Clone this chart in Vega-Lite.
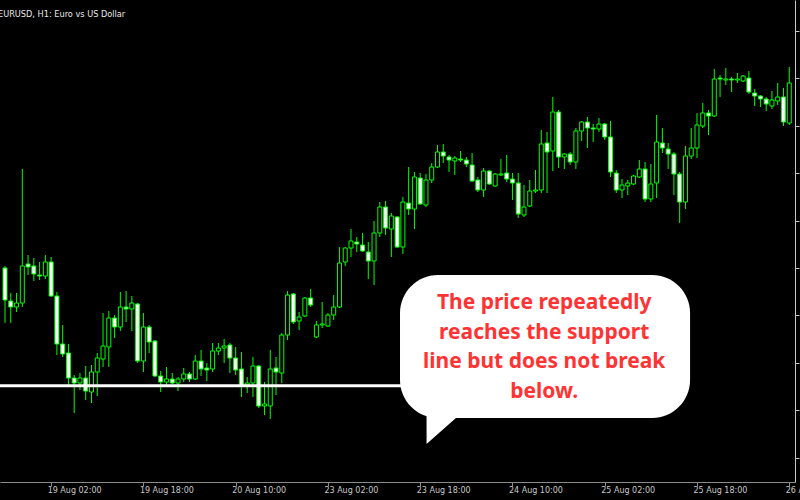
{
"$schema":"https://vega.github.io/schema/vega-lite/v6.json",
"width":795,"height":482,
"autosize":{"type":"none"},
"padding":{"left":0,"top":0,"right":5,"bottom":18},
"background":"#000000",
"config":{"view":{"stroke":null}},
"title":{"text":"EURUSD, H1:  Euro vs US Dollar","anchor":"start","orient":"top","frame":"group","offset":-19,"dx":-2,"color":"#e8e8e8","font":"DejaVu Sans","fontSize":8.2,"fontWeight":"normal"},
"datasets":{"candles":[
{"i":0,"o":1.17196,"h":1.17202,"l":1.17031,"c":1.17100},
{"i":1,"o":1.17097,"h":1.17121,"l":1.17031,"c":1.17079},
{"i":2,"o":1.17079,"h":1.17121,"l":1.17064,"c":1.17091},
{"i":3,"o":1.17091,"h":1.17493,"l":1.17079,"c":1.17202},
{"i":4,"o":1.17208,"h":1.17235,"l":1.17175,"c":1.17199},
{"i":5,"o":1.17202,"h":1.17226,"l":1.17157,"c":1.17178},
{"i":6,"o":1.17175,"h":1.17214,"l":1.17160,"c":1.17172},
{"i":7,"o":1.17172,"h":1.17235,"l":1.17163,"c":1.17214},
{"i":8,"o":1.17214,"h":1.17229,"l":1.17109,"c":1.17112},
{"i":9,"o":1.17112,"h":1.17124,"l":1.16935,"c":1.16968},
{"i":10,"o":1.16968,"h":1.17025,"l":1.16929,"c":1.16938},
{"i":11,"o":1.16941,"h":1.16968,"l":1.16845,"c":1.16866},
{"i":12,"o":1.16866,"h":1.16875,"l":1.16761,"c":1.16851},
{"i":13,"o":1.16851,"h":1.16881,"l":1.16830,"c":1.16866},
{"i":14,"o":1.16866,"h":1.16902,"l":1.16800,"c":1.16827},
{"i":15,"o":1.16824,"h":1.16905,"l":1.16791,"c":1.16884},
{"i":16,"o":1.16884,"h":1.16941,"l":1.16812,"c":1.16926},
{"i":17,"o":1.16923,"h":1.17061,"l":1.16899,"c":1.16962},
{"i":18,"o":1.16959,"h":1.17067,"l":1.16899,"c":1.17046},
{"i":19,"o":1.17046,"h":1.17055,"l":1.16986,"c":1.17019},
{"i":20,"o":1.17019,"h":1.17124,"l":1.17007,"c":1.17079},
{"i":21,"o":1.17079,"h":1.17127,"l":1.17034,"c":1.17073},
{"i":22,"o":1.17073,"h":1.17112,"l":1.17007,"c":1.17091},
{"i":23,"o":1.17088,"h":1.17091,"l":1.16911,"c":1.16917},
{"i":24,"o":1.16917,"h":1.17061,"l":1.16884,"c":1.17019},
{"i":25,"o":1.17019,"h":1.17025,"l":1.16941,"c":1.16974},
{"i":26,"o":1.16977,"h":1.16980,"l":1.16869,"c":1.16872},
{"i":27,"o":1.16872,"h":1.16887,"l":1.16824,"c":1.16854},
{"i":28,"o":1.16854,"h":1.16899,"l":1.16845,"c":1.16863},
{"i":29,"o":1.16863,"h":1.16881,"l":1.16848,"c":1.16851},
{"i":30,"o":1.16851,"h":1.16869,"l":1.16827,"c":1.16863},
{"i":31,"o":1.16863,"h":1.16896,"l":1.16854,"c":1.16878},
{"i":32,"o":1.16878,"h":1.16884,"l":1.16854,"c":1.16863},
{"i":33,"o":1.16863,"h":1.16935,"l":1.16860,"c":1.16917},
{"i":34,"o":1.16917,"h":1.16950,"l":1.16872,"c":1.16893},
{"i":35,"o":1.16896,"h":1.16911,"l":1.16857,"c":1.16890},
{"i":36,"o":1.16893,"h":1.16971,"l":1.16884,"c":1.16947},
{"i":37,"o":1.16947,"h":1.16971,"l":1.16935,"c":1.16956},
{"i":38,"o":1.16956,"h":1.16983,"l":1.16911,"c":1.16962},
{"i":39,"o":1.16965,"h":1.16971,"l":1.16881,"c":1.16926},
{"i":40,"o":1.16926,"h":1.16959,"l":1.16875,"c":1.16890},
{"i":41,"o":1.16893,"h":1.16944,"l":1.16809,"c":1.16842},
{"i":42,"o":1.16845,"h":1.16869,"l":1.16821,"c":1.16851},
{"i":43,"o":1.16851,"h":1.16929,"l":1.16809,"c":1.16902},
{"i":44,"o":1.16902,"h":1.16905,"l":1.16776,"c":1.16782},
{"i":45,"o":1.16782,"h":1.16854,"l":1.16755,"c":1.16788},
{"i":46,"o":1.16782,"h":1.16950,"l":1.16743,"c":1.16893},
{"i":47,"o":1.16896,"h":1.16929,"l":1.16815,"c":1.16884},
{"i":48,"o":1.16881,"h":1.17001,"l":1.16851,"c":1.16995},
{"i":49,"o":1.16995,"h":1.17127,"l":1.16980,"c":1.17115},
{"i":50,"o":1.17118,"h":1.17121,"l":1.17028,"c":1.17034},
{"i":51,"o":1.17037,"h":1.17064,"l":1.17010,"c":1.17049},
{"i":52,"o":1.17052,"h":1.17109,"l":1.17049,"c":1.17106},
{"i":53,"o":1.17106,"h":1.17133,"l":1.17079,"c":1.17085},
{"i":54,"o":1.16989,"h":1.17037,"l":1.16986,"c":1.17025},
{"i":55,"o":1.17025,"h":1.17094,"l":1.17016,"c":1.17028},
{"i":56,"o":1.17022,"h":1.17061,"l":1.17019,"c":1.17055},
{"i":57,"o":1.17055,"h":1.17115,"l":1.17040,"c":1.17079},
{"i":58,"o":1.17079,"h":1.17259,"l":1.17076,"c":1.17211},
{"i":59,"o":1.17214,"h":1.17259,"l":1.17202,"c":1.17256},
{"i":60,"o":1.17256,"h":1.17313,"l":1.17229,"c":1.17277},
{"i":61,"o":1.17274,"h":1.17289,"l":1.17244,"c":1.17268},
{"i":62,"o":1.17265,"h":1.17301,"l":1.17244,"c":1.17247},
{"i":63,"o":1.17244,"h":1.17274,"l":1.17163,"c":1.17217},
{"i":64,"o":1.17217,"h":1.17337,"l":1.17145,"c":1.17301},
{"i":65,"o":1.17301,"h":1.17394,"l":1.17289,"c":1.17379},
{"i":66,"o":1.17379,"h":1.17397,"l":1.17295,"c":1.17316},
{"i":67,"o":1.17313,"h":1.17361,"l":1.17229,"c":1.17352},
{"i":68,"o":1.17349,"h":1.17352,"l":1.17256,"c":1.17259},
{"i":69,"o":1.17259,"h":1.17409,"l":1.17238,"c":1.17394},
{"i":70,"o":1.17391,"h":1.17499,"l":1.17355,"c":1.17373},
{"i":71,"o":1.17373,"h":1.17484,"l":1.17313,"c":1.17469},
{"i":72,"o":1.17466,"h":1.17481,"l":1.17385,"c":1.17388},
{"i":73,"o":1.17385,"h":1.17478,"l":1.17379,"c":1.17460},
{"i":74,"o":1.17460,"h":1.17511,"l":1.17451,"c":1.17499},
{"i":75,"o":1.17499,"h":1.17565,"l":1.17496,"c":1.17544},
{"i":76,"o":1.17544,"h":1.17568,"l":1.17511,"c":1.17532},
{"i":77,"o":1.17529,"h":1.17535,"l":1.17484,"c":1.17520},
{"i":78,"o":1.17517,"h":1.17532,"l":1.17475,"c":1.17526},
{"i":79,"o":1.17523,"h":1.17547,"l":1.17514,"c":1.17520},
{"i":80,"o":1.17520,"h":1.17529,"l":1.17499,"c":1.17508},
{"i":81,"o":1.17505,"h":1.17541,"l":1.17454,"c":1.17457},
{"i":82,"o":1.17460,"h":1.17469,"l":1.17424,"c":1.17430},
{"i":83,"o":1.17430,"h":1.17496,"l":1.17409,"c":1.17487},
{"i":84,"o":1.17487,"h":1.17490,"l":1.17445,"c":1.17448},
{"i":85,"o":1.17442,"h":1.17481,"l":1.17439,"c":1.17478},
{"i":86,"o":1.17475,"h":1.17523,"l":1.17472,"c":1.17478},
{"i":87,"o":1.17481,"h":1.17535,"l":1.17454,"c":1.17463},
{"i":88,"o":1.17463,"h":1.17481,"l":1.17400,"c":1.17451},
{"i":89,"o":1.17451,"h":1.17481,"l":1.17346,"c":1.17358},
{"i":90,"o":1.17355,"h":1.17445,"l":1.17349,"c":1.17379},
{"i":91,"o":1.17382,"h":1.17460,"l":1.17379,"c":1.17427},
{"i":92,"o":1.17427,"h":1.17490,"l":1.17421,"c":1.17430},
{"i":93,"o":1.17430,"h":1.17610,"l":1.17421,"c":1.17568},
{"i":94,"o":1.17571,"h":1.17604,"l":1.17421,"c":1.17544},
{"i":95,"o":1.17547,"h":1.17709,"l":1.17487,"c":1.17664},
{"i":96,"o":1.17664,"h":1.17670,"l":1.17496,"c":1.17529},
{"i":97,"o":1.17529,"h":1.17541,"l":1.17493,"c":1.17538},
{"i":98,"o":1.17538,"h":1.17544,"l":1.17505,"c":1.17514},
{"i":99,"o":1.17514,"h":1.17616,"l":1.17493,"c":1.17607},
{"i":100,"o":1.17607,"h":1.17637,"l":1.17577,"c":1.17634},
{"i":101,"o":1.17634,"h":1.17649,"l":1.17556,"c":1.17616},
{"i":102,"o":1.17616,"h":1.17628,"l":1.17574,"c":1.17613},
{"i":103,"o":1.17613,"h":1.17646,"l":1.17604,"c":1.17628},
{"i":104,"o":1.17628,"h":1.17631,"l":1.17580,"c":1.17589},
{"i":105,"o":1.17589,"h":1.17637,"l":1.17469,"c":1.17484},
{"i":106,"o":1.17481,"h":1.17490,"l":1.17421,"c":1.17430},
{"i":107,"o":1.17430,"h":1.17463,"l":1.17406,"c":1.17445},
{"i":108,"o":1.17442,"h":1.17460,"l":1.17415,"c":1.17451},
{"i":109,"o":1.17448,"h":1.17475,"l":1.17445,"c":1.17472},
{"i":110,"o":1.17469,"h":1.17520,"l":1.17466,"c":1.17493},
{"i":111,"o":1.17493,"h":1.17514,"l":1.17394,"c":1.17403},
{"i":112,"o":1.17403,"h":1.17508,"l":1.17394,"c":1.17448},
{"i":113,"o":1.17451,"h":1.17655,"l":1.17406,"c":1.17574},
{"i":114,"o":1.17571,"h":1.17616,"l":1.17541,"c":1.17556},
{"i":115,"o":1.17553,"h":1.17571,"l":1.17493,"c":1.17538},
{"i":116,"o":1.17538,"h":1.17544,"l":1.17415,"c":1.17478},
{"i":117,"o":1.17478,"h":1.17484,"l":1.17331,"c":1.17394},
{"i":118,"o":1.17394,"h":1.17562,"l":1.17373,"c":1.17532},
{"i":119,"o":1.17532,"h":1.17616,"l":1.17523,"c":1.17556},
{"i":120,"o":1.17556,"h":1.17661,"l":1.17526,"c":1.17625},
{"i":121,"o":1.17622,"h":1.17691,"l":1.17616,"c":1.17661},
{"i":122,"o":1.17661,"h":1.17670,"l":1.17595,"c":1.17652},
{"i":123,"o":1.17652,"h":1.17793,"l":1.17649,"c":1.17763},
{"i":124,"o":1.17766,"h":1.17775,"l":1.17709,"c":1.17763},
{"i":125,"o":1.17760,"h":1.17796,"l":1.17745,"c":1.17763},
{"i":126,"o":1.17763,"h":1.17769,"l":1.17724,"c":1.17760},
{"i":127,"o":1.17760,"h":1.17781,"l":1.17751,"c":1.17763},
{"i":128,"o":1.17757,"h":1.17775,"l":1.17754,"c":1.17772},
{"i":129,"o":1.17766,"h":1.17787,"l":1.17718,"c":1.17724},
{"i":130,"o":1.17721,"h":1.17733,"l":1.17682,"c":1.17712},
{"i":131,"o":1.17712,"h":1.17715,"l":1.17679,"c":1.17703},
{"i":132,"o":1.17703,"h":1.17709,"l":1.17667,"c":1.17688},
{"i":133,"o":1.17682,"h":1.17727,"l":1.17673,"c":1.17700},
{"i":134,"o":1.17697,"h":1.17751,"l":1.17685,"c":1.17709},
{"i":135,"o":1.17709,"h":1.17736,"l":1.17622,"c":1.17634},
{"i":136,"o":1.17631,"h":1.17799,"l":1.17625,"c":1.17751}
]},
"layer":[
{"data":{"name":"candles"},
 "mark":{"type":"rule","color":"#00ff00","strokeWidth":1,"clip":true},
 "encoding":{
  "x":{"field":"i","type":"quantitative","scale":{"domain":[0,136.13],"nice":false,"zero":false},
   "axis":{"title":null,"orient":"bottom","grid":false,"values":[8,24,40,56,72,88,104,120,136],
    "labelExpr":"datum.value==8?'19 Aug 02:00':datum.value==24?'19 Aug 18:00':datum.value==40?'20 Aug 10:00':datum.value==56?'23 Aug 02:00':datum.value==72?'23 Aug 18:00':datum.value==88?'24 Aug 10:00':datum.value==104?'25 Aug 02:00':datum.value==120?'25 Aug 18:00':'26 Aug 10:00'",
    "labelAlign":"left","labelBaseline":"top","labelPadding":0,"labelOffset":-4,"labelFlush":false,"labelOverlap":false,"labelBound":false,
    "tickSize":4,"tickColor":"#8c8c8c","domainColor":"#8c8c8c","labelColor":"#c8c8c8","labelFont":"DejaVu Sans","labelFontSize":8}},
  "y":{"field":"l","type":"quantitative","scale":{"domain":[1.16554,1.18],"nice":false,"zero":false},
   "axis":{"title":null,"orient":"right","grid":false,"labels":false,"tickSize":4,"tickColor":"#c8c8c8","domainColor":"#c8c8c8",
    "values":[1.179079,1.178368,1.177654,1.176943,1.176232,1.175518,1.174807,1.174096,1.173385,1.172671,1.17196,1.171249,1.170535,1.169824,1.169113,1.168399,1.167688,1.166977,1.166263]}},
  "y2":{"field":"h"}}},
{"data":{"name":"candles"},
 "mark":{"type":"bar","width":4,"stroke":"#00ff00","strokeWidth":1,"clip":true},
 "encoding":{
  "x":{"field":"i","type":"quantitative"},
  "y":{"field":"o","type":"quantitative"},
  "y2":{"field":"c"},
  "fill":{"condition":{"test":"datum.c < datum.o","value":"#ffffff"},"value":"#000000"}}},
{"data":{"values":[{}]},
 "mark":{"type":"rule","color":"#ffffff","strokeWidth":3,"clip":true},
 "encoding":{"x":{"datum":-1,"type":"quantitative"},"x2":{"datum":71},"y":{"datum":1.16843,"type":"quantitative"}}},
{"data":{"values":[{}]},
 "mark":{"type":"rect","fill":"#ffffff","cornerRadius":38},
 "encoding":{"x":{"datum":68.5,"type":"quantitative"},"x2":{"datum":118.8},"y":{"datum":1.17175,"type":"quantitative"},"y2":{"datum":1.16746}}},
{"data":{"values":[{"x":73.1,"top":1.16785,"bot":1.16668},{"x":78.2,"top":1.16785,"bot":1.16746}]},
 "mark":{"type":"area","fill":"#ffffff","interpolate":"linear"},
 "encoding":{"x":{"field":"x","type":"quantitative"},"y":{"field":"top","type":"quantitative"},"y2":{"field":"bot"}}},
{"data":{"values":[{}]},
 "mark":{"type":"text","font":"Noto Sans","fontSize":21,"fontWeight":"bold","color":"#ff3333","align":"center","baseline":"middle","lineHeight":29.5},
 "encoding":{"x":{"datum":93.5,"type":"quantitative"},"y":{"datum":1.17091,"type":"quantitative"},
  "text":{"value":["The price repeatedly","reaches the support","line but does not break","below."]}}}
]
}
